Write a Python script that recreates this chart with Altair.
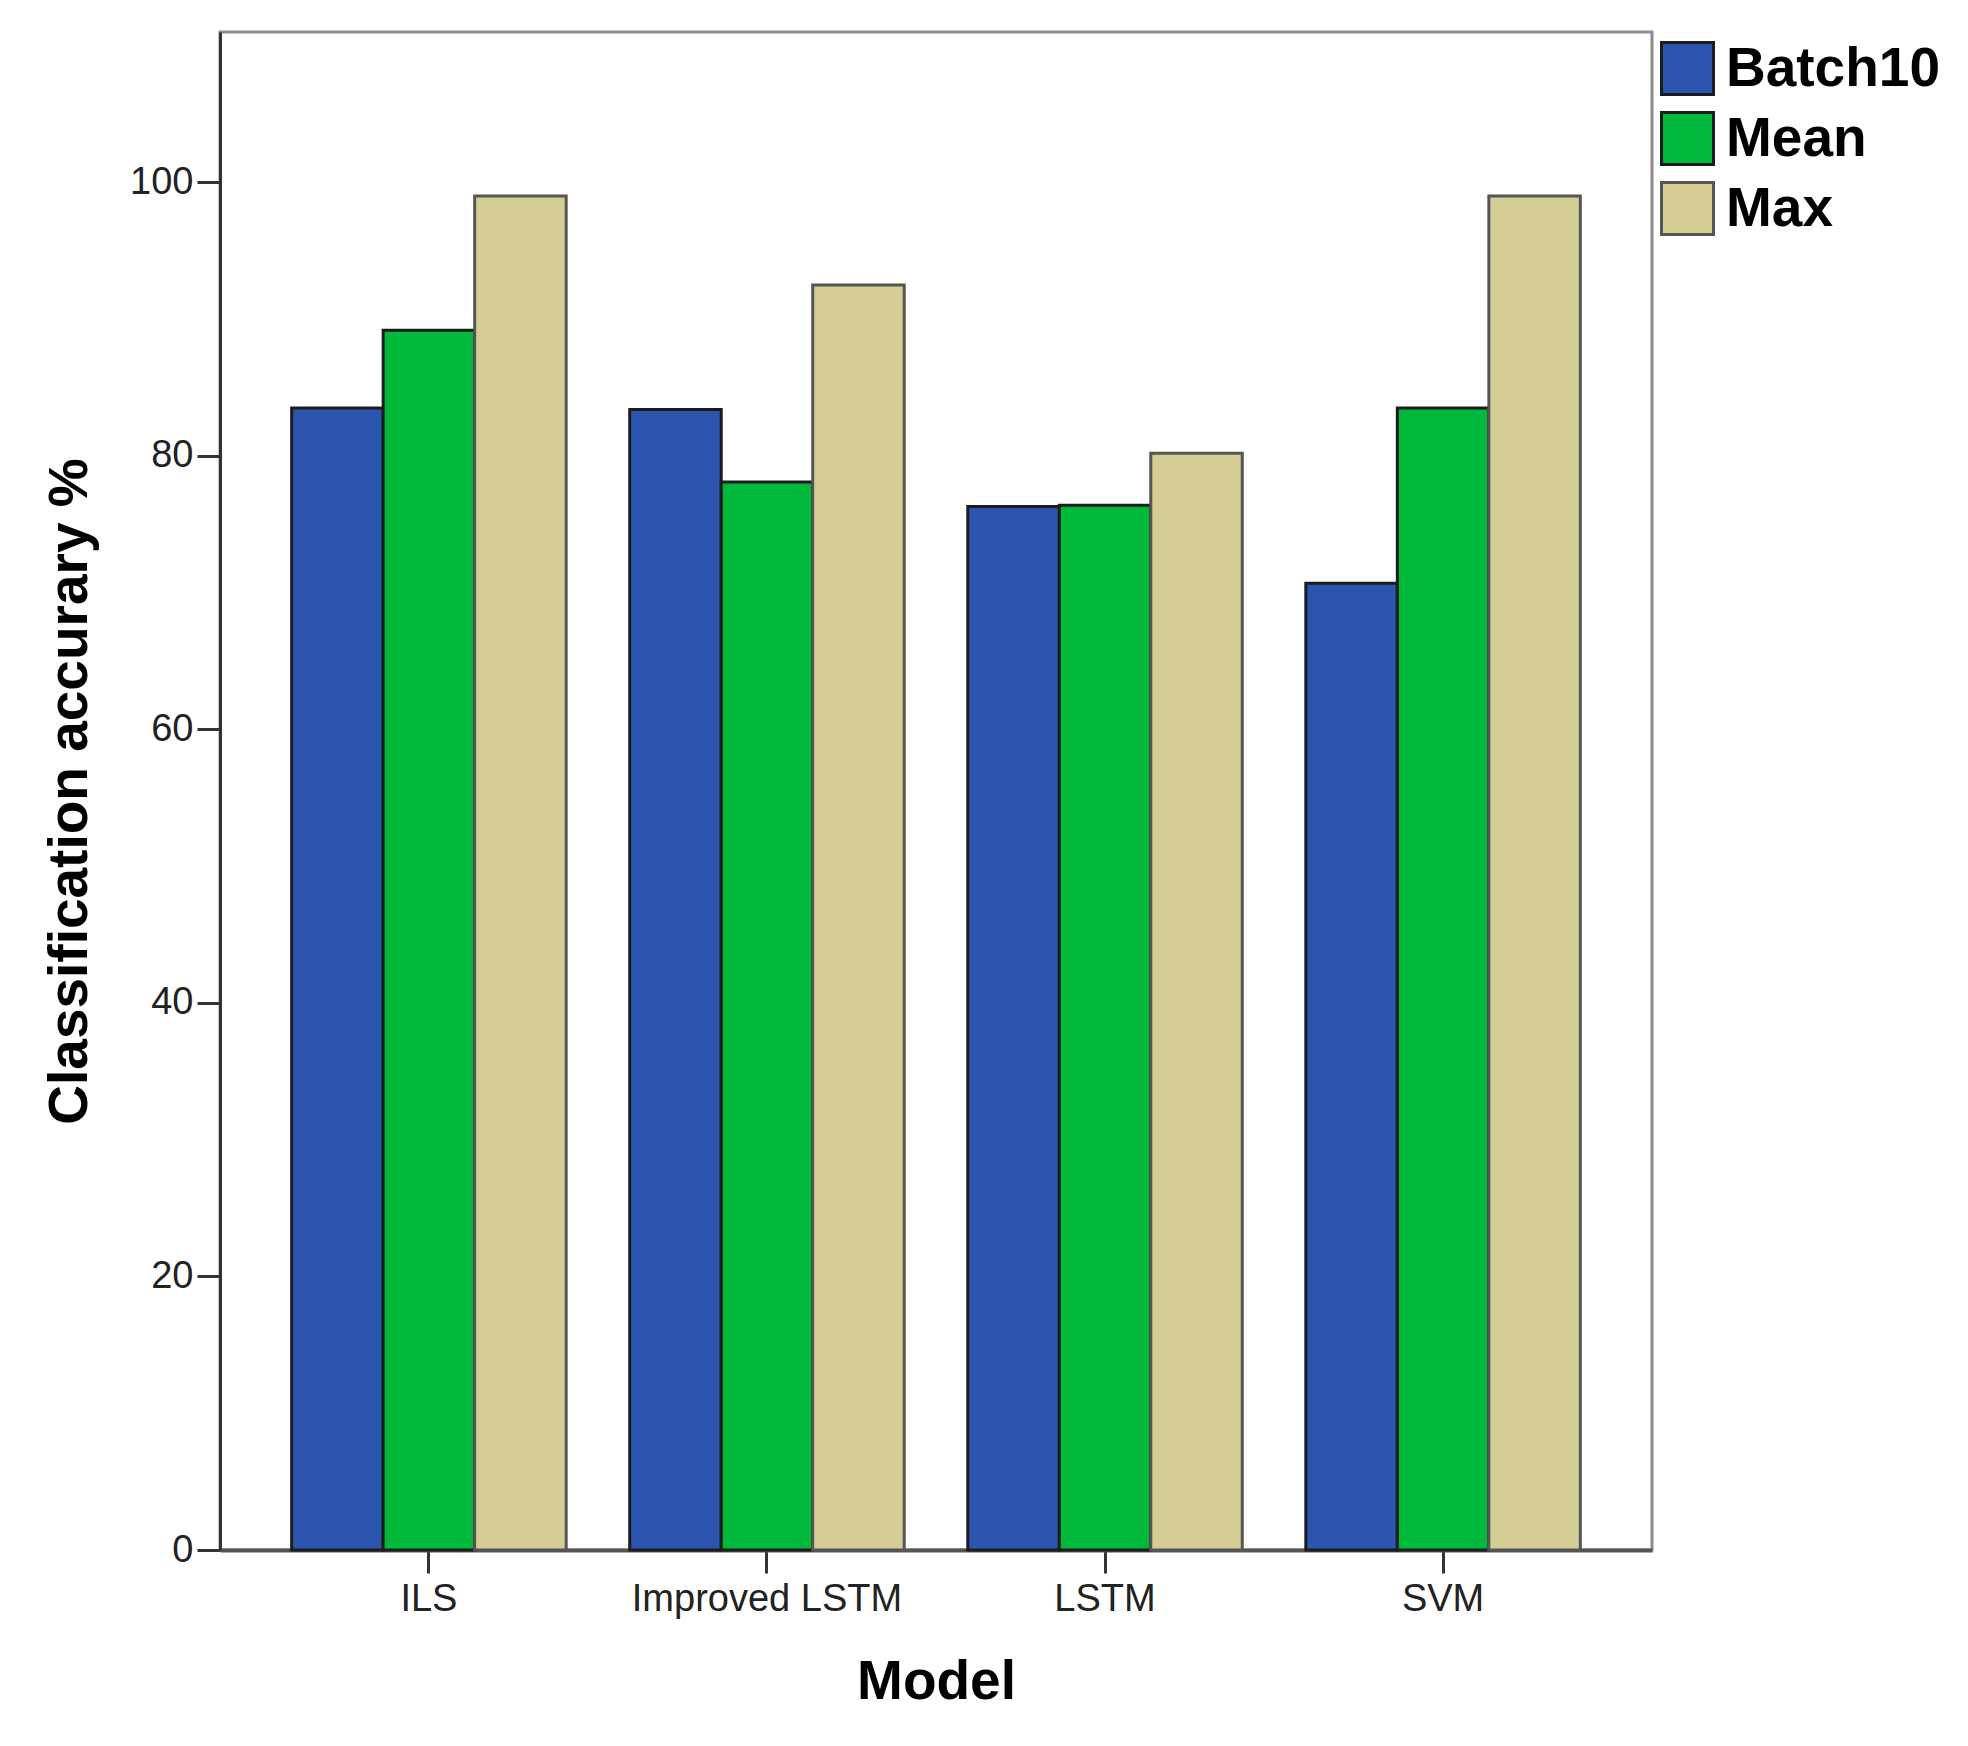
import altair as alt
import pandas as pd

models = ["ILS", "Improved LSTM", "LSTM", "SVM"]
series = ["Batch10", "Mean", "Max"]
batch10 = [83.5, 83.4, 76.3, 70.7]
mean = [89.2, 78.1, 76.4, 83.5]
maxv = [99.0, 92.5, 80.2, 99.0]
y_ticks = [0, 20, 40, 60, 80, 100]
colors = ["#2b55ae", "#00b83a", "#d4ce95"]
strokes = ["#1c1c1c", "#1c1c1c", "#555555"]

rows = []
for i, m in enumerate(models):
    for s, vals in zip(series, [batch10, mean, maxv]):
        rows.append({"Model": m, "series": s, "value": vals[i]})
df = pd.DataFrame(rows)

FONT = "Liberation Sans"

chart = alt.Chart(df).mark_bar(strokeWidth=3).encode(
    x=alt.X("Model:N", sort=models,
            scale=alt.Scale(paddingInner=0.188, paddingOuter=0.212),
            axis=alt.Axis(title="Model", labelAngle=0, domainColor="#555555",
                          domainWidth=4, tickColor="#333333", tickWidth=3,
                          tickSize=23, labelPadding=7, titlePadding=37,
                          labelLimit=600)),
    xOffset=alt.XOffset("series:N", sort=series,
                        scale=alt.Scale(paddingInner=0, paddingOuter=0)),
    y=alt.Y("value:Q", scale=alt.Scale(domain=[0, 111], nice=False),
            axis=alt.Axis(title="Classification accurary %", values=y_ticks,
                          grid=False, domainColor="#333333", domainWidth=3,
                          tickColor="#333333", tickWidth=3, tickSize=23,
                          labelPadding=4, titlePadding=31)),
    color=alt.Color("series:N", sort=series,
                    scale=alt.Scale(domain=series, range=colors),
                    legend=alt.Legend(title=None, orient="none", legendX=1440,
                                      legendY=9, symbolType="square",
                                      symbolSize=2704, symbolStrokeColor="#222222",
                                      symbolStrokeWidth=3, labelFontSize=55,
                                      labelFontWeight="bold", labelColor="#000000",
                                      labelFont=FONT, labelOffset=11,
                                      rowPadding=5, padding=0, labelLimit=400)),
    stroke=alt.Stroke("series:N", sort=series,
                      scale=alt.Scale(domain=series, range=strokes), legend=None),
).properties(
    width=1432, height=1518,
    autosize=alt.AutoSizeParams(type="none"),
    padding={"left": 212, "top": 24, "right": 308, "bottom": 188},
).configure_view(
    stroke="#8c8c8c", strokeWidth=3
).configure_axis(
    labelFont=FONT, labelFontSize=38, labelColor="#222222",
    titleFont=FONT, titleFontSize=55, titleFontWeight="bold", titleColor="#000000",
)

chart.save("out.html", embed_options={"renderer": "svg", "actions": False})
